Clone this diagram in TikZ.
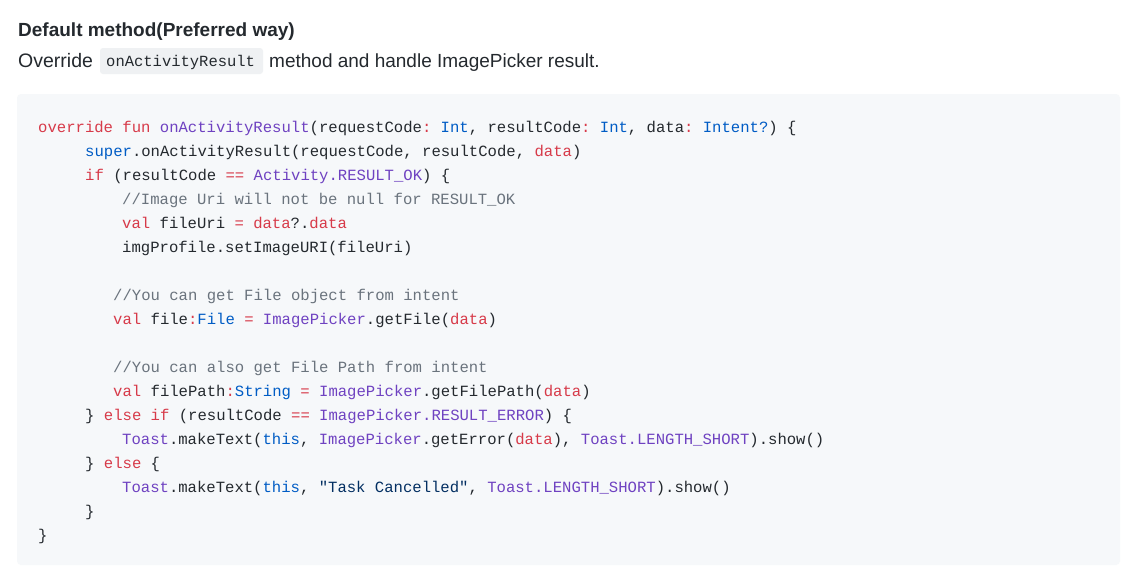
\documentclass[tikz,border=0pt]{standalone}
\usepackage{fontspec}
\setmainfont{Liberation Sans}
\setmonofont{Liberation Mono}
\definecolor{cred}{HTML}{D73A49}
\definecolor{cpur}{HTML}{6F42C1}
\definecolor{cblu}{HTML}{005CC5}
\definecolor{cgry}{HTML}{6A737D}
\definecolor{cstr}{HTML}{032F62}
\definecolor{ctxt}{HTML}{24292E}
\definecolor{cbg}{HTML}{F6F8FA}
\definecolor{cinl}{HTML}{EFF1F3}
\newcommand{\tkR}[1]{\textcolor{cred}{#1}}
\newcommand{\tkP}[1]{\textcolor{cpur}{#1}}
\newcommand{\tkB}[1]{\textcolor{cblu}{#1}}
\newcommand{\tkG}[1]{\textcolor{cgry}{#1}}
\newcommand{\tkS}[1]{\textcolor{cstr}{#1}}
\begin{document}
\begin{tikzpicture}[x=1pt,y=-1pt,
  code/.style={anchor=base west,inner sep=0pt,text=ctxt,font=\ttfamily\fontsize{15.6}{18}\selectfont}]
\useasboundingbox (0,0) rectangle (1146,581);
\fill[white] (0,0) rectangle (1146,581);
\node[anchor=base west,inner sep=0pt,text=ctxt,font=\bfseries\fontsize{19}{22}\selectfont] (title) at (18,36) {Default method(Preferred way)};
\fill[cinl,rounded corners=3pt] (100,48) rectangle (263,74);
\node[anchor=base west,inner sep=0pt,text=ctxt,font=\fontsize{19.5}{22}\selectfont] (o1) at (18,67) {Override};
\node[anchor=base west,inner sep=0pt,text=ctxt,font=\ttfamily\fontsize{15.5}{17}\selectfont] (o2) at (106,66) {onActivityResult};
\node[anchor=base west,inner sep=0pt,text=ctxt,font=\fontsize{19}{22}\selectfont] (o3) at (269,67) {method and handle ImagePicker result.};
\fill[cbg,rounded corners=4pt] (17,94) rectangle (1120,565);
\node[code] (l1) at (38,132) {\tkR{override fun} \tkP{onActivityResult}(requestCode\tkR{:} \tkB{Int}, resultCode\tkR{:} \tkB{Int}, data\tkR{:} \tkB{Intent?}) \{};
\node[code] (l2) at (85,156) {\tkB{super}.onActivityResult(requestCode, resultCode, \tkR{data})};
\node[code] (l3) at (85,180) {\tkR{if} (resultCode \tkR{==} \tkP{Activity.RESULT\_OK}) \{};
\node[code] (l4) at (122,204) {\tkG{//Image Uri will not be null for RESULT\_OK}};
\node[code] (l5) at (122,228) {\tkR{val} fileUri \tkR{=} \tkR{data}?.\tkR{data}};
\node[code] (l6) at (122,252) {imgProfile.setImageURI(fileUri)};
\node[code] (l8) at (113,300) {\tkG{//You can get File object from intent}};
\node[code] (l9) at (113,324) {\tkR{val} file\tkR{:}\tkB{File} \tkR{=} \tkP{ImagePicker}.getFile(\tkR{data})};
\node[code] (l11) at (113,372) {\tkG{//You can also get File Path from intent}};
\node[code] (l12) at (113,396) {\tkR{val} filePath\tkR{:}\tkB{String} \tkR{=} \tkP{ImagePicker}.getFilePath(\tkR{data})};
\node[code] (l13) at (85,420) {\} \tkR{else if} (resultCode \tkR{==} \tkP{ImagePicker.RESULT\_ERROR}) \{};
\node[code] (l14) at (122,444) {\tkP{Toast}.makeText(\tkB{this}, \tkP{ImagePicker}.getError(\tkR{data}), \tkP{Toast.LENGTH\_SHORT}).show()};
\node[code] (l15) at (85,468) {\} \tkR{else} \{};
\node[code] (l16) at (122,492) {\tkP{Toast}.makeText(\tkB{this}, \tkS{"Task Cancelled"}, \tkP{Toast.LENGTH\_SHORT}).show()};
\node[code] (l17) at (85,516) {\}};
\node[code] (l18) at (38,540) {\}};
\end{tikzpicture}
\end{document}
